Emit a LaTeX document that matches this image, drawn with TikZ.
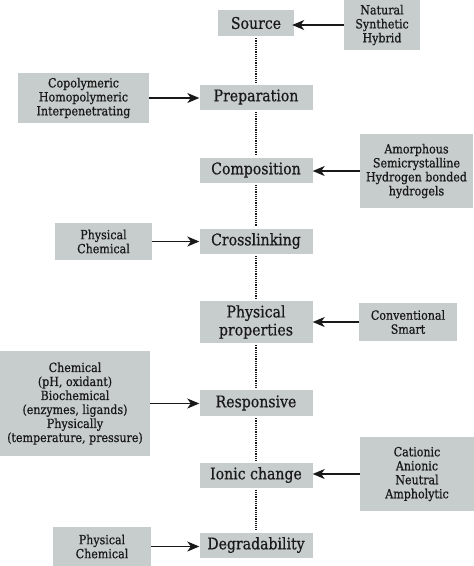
\documentclass[tikz,border=0pt]{standalone}
\usepackage{fontspec}
\setmainfont{DejaVu Serif}[FakeStretch=0.88,FakeBold=0.6]
\usetikzlibrary{arrows.meta}
\definecolor{boxgray}{RGB}{198,205,204}
\definecolor{ink}{RGB}{25,25,25}
\begin{document}
\begin{tikzpicture}[x=1pt,y=-1pt,
  mainbox/.style={fill=boxgray, text=ink, minimum width=113pt, minimum height=25pt, inner sep=0pt, align=center, font=\fontsize{16}{18}\selectfont},
  sidebox/.style={fill=boxgray, text=ink, inner sep=0pt, align=center, font=\fontsize{12.6}{14}\selectfont},
  feed/.style={-{Stealth[length=12pt,width=10pt,inset=3.5pt]}, line width=1.3pt, ink},
  chain/.style={dash pattern=on 1.2pt off 1pt, line width=1.3pt, ink, shorten <=2pt, shorten >=2pt}]
\useasboundingbox (0,0) rectangle (474,566);
% main column
\node[mainbox, minimum width=76pt, minimum height=26pt] (src) at (256,23) {Source};
\node[mainbox] (prep) at (256,97) {Preparation};
\node[mainbox] (comp) at (256,170) {Composition};
\node[mainbox] (cross) at (256,241) {Crosslinking};
\node[mainbox, minimum height=42pt] (phys) at (256,322) {Physical\\properties};
\node[mainbox, minimum height=26pt] (resp) at (256,403) {Responsive};
\node[mainbox] (ionic) at (256,475) {Ionic change};
\node[mainbox] (degr) at (256,545) {Degradability};
% side boxes
\node[sidebox, minimum width=76pt, minimum height=50pt] (natural) at (382,25) {Natural\\Synthetic\\Hybrid};
\node[sidebox, minimum width=131pt, minimum height=50pt] (copoly) at (83.5,98) {Copolymeric\\Homopolymeric\\Interpenetrating};
\node[sidebox, minimum width=113pt, minimum height=74pt] (amorph) at (416.5,171) {Amorphous\\Semicrystalline\\Hydrogen bonded\\hydrogels};
\node[sidebox, minimum width=97pt, minimum height=37pt] (pcA) at (103.5,241.5) {Physical\\Chemical};
\node[sidebox, minimum width=98pt, minimum height=38pt] (conv) at (408,322) {Conventional\\Smart};
\node[sidebox, minimum width=150pt, minimum height=105pt] (chem) at (75,403.5) {Chemical\\(pH, oxidant)\\Biochemical\\(enzymes, ligands)\\Physically\\(temperature, pressure)};
\node[sidebox, minimum width=114pt, minimum height=74pt] (cation) at (417,474) {Cationic\\Anionic\\Neutral\\Ampholytic};
\node[sidebox, minimum width=98pt, minimum height=39pt] (pcB) at (102,546.5) {Physical\\Chemical};
% dotted chain
\draw[chain] (src) -- (prep);
\draw[chain] (prep) -- (comp);
\draw[chain] (comp) -- (cross);
\draw[chain] (cross) -- (phys);
\draw[chain] (phys) -- (resp);
\draw[chain] (resp) -- (ionic);
\draw[chain] (ionic) -- (degr);
% feeding arrows
\draw[feed] (natural.west) -- ([xshift=-2pt]src.east |- natural.west);
\draw[feed] (copoly.east) -- (prep.west |- copoly.east);
\draw[feed] (amorph.west) -- (comp.east |- amorph.west);
\draw[feed] (pcA.east) -- (cross.west |- pcA.east);
\draw[feed] (conv.west) -- (phys.east |- conv.west);
\draw[feed] (chem.east) -- (resp.west |- chem.east);
\draw[feed] (cation.west) -- (ionic.east |- cation.west);
\draw[feed] (pcB.east) -- (degr.west |- pcB.east);
\end{tikzpicture}
\end{document}
